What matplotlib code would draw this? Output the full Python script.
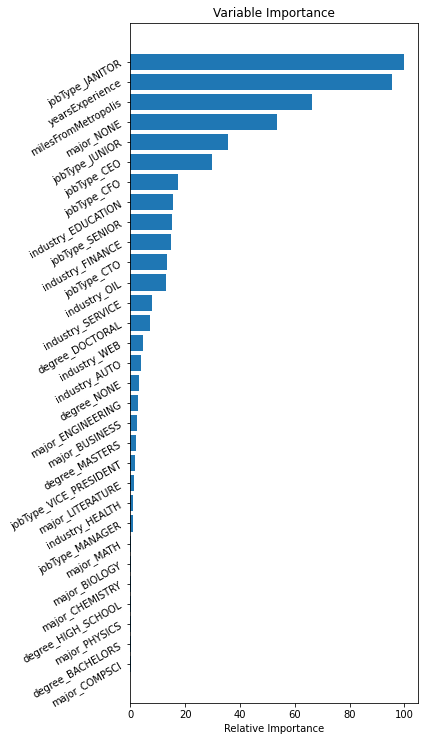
import numpy as np
import matplotlib
matplotlib.use("Agg")
import matplotlib.pyplot as plt

features = ["jobType_JANITOR", "yearsExperience", "milesFromMetropolis", "major_NONE",
            "jobType_JUNIOR", "jobType_CEO", "jobType_CFO", "industry_EDUCATION",
            "jobType_SENIOR", "industry_FINANCE", "jobType_CTO", "industry_OIL",
            "industry_SERVICE", "degree_DOCTORAL", "industry_WEB", "industry_AUTO",
            "degree_NONE", "major_ENGINEERING", "major_BUSINESS", "degree_MASTERS",
            "jobType_VICE_PRESIDENT", "major_LITERATURE", "industry_HEALTH",
            "jobType_MANAGER", "major_MATH", "major_BIOLOGY", "major_CHEMISTRY",
            "degree_HIGH_SCHOOL", "major_PHYSICS", "degree_BACHELORS", "major_COMPSCI"]
importance = [100.0, 95.4, 66.2, 53.4, 35.8, 29.9, 17.4, 15.6, 15.2, 14.8, 13.4, 13.0,
              7.9, 7.2, 4.6, 3.9, 3.1, 2.7, 2.4, 2.0, 1.6, 1.2, 1.0,
              1.0, 0.3, 0.25, 0.2, 0.15, 0.12, 0.1, 0.08]

# ascending order from bottom to top
feat_sorted = features[::-1]
imp_sorted = importance[::-1]
pos = np.arange(len(feat_sorted)) + 0.5

fig = plt.figure(figsize=(424 / 72, 742 / 72), dpi=72)
ax = fig.add_axes([130.3 / 424, 1 - 703 / 742, (418 - 130.3) / 424, (703 - 22.7) / 742])
ax.barh(pos, imp_sorted, align='center', color='#1f77b4')
ax.set_yticks(pos)
ax.set_yticklabels(feat_sorted, rotation=30, fontsize=10)
ax.set_xlabel('Relative Importance', fontsize=10)
ax.set_title('Variable Importance', fontsize=12)
ax.tick_params(axis='x', labelsize=10)
fig.savefig('out.png', dpi=72)
